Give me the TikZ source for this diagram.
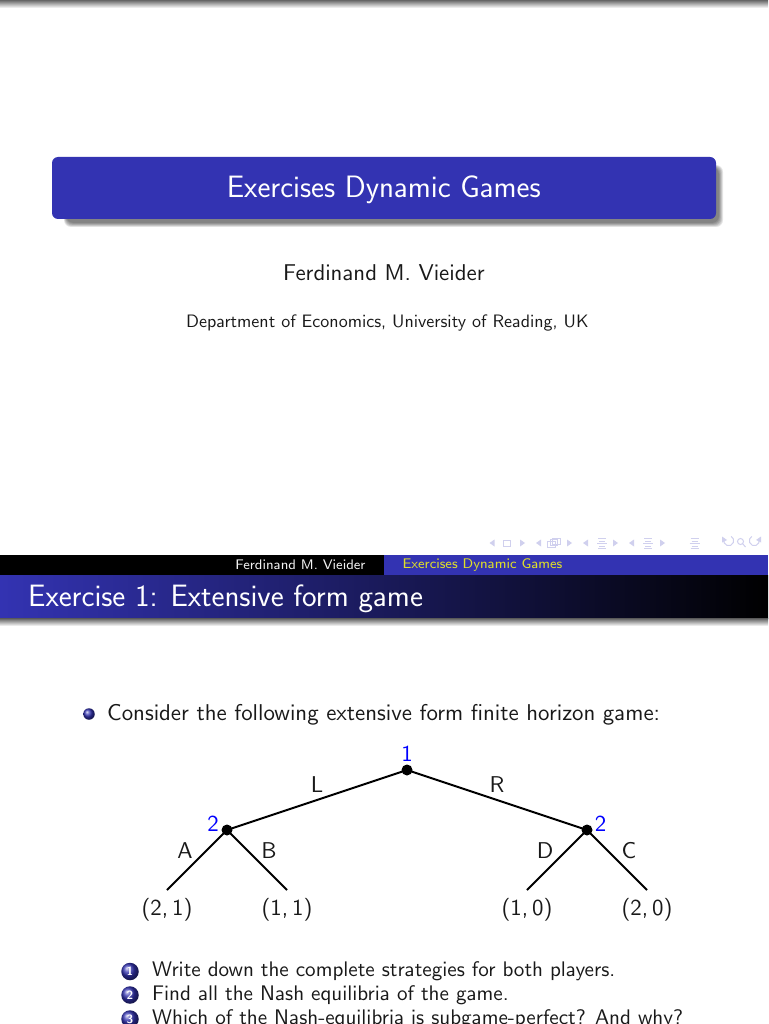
\documentclass[tikz,border=0pt]{standalone}
\usetikzlibrary{calc}
\definecolor{bmblue}{RGB}{51,51,178}
\definecolor{navpale}{RGB}{208,208,238}
\definecolor{headyellow}{RGB}{224,224,40}
\font\fbody=cmss10 at 22.85pt
\font\fenum=cmss10 at 21.1pt
\font\ftitle=cmss17 at 30.9pt
\font\fframe=cmss17 at 30.9pt
\font\fdept=cmss10 at 18pt
\font\fhead=cmss8 at 13.9pt
\font\fnum=cmssbx10 at 12pt
\tikzset{
  x=1pt,y=-1pt,
  bodytext/.style={font=\fbody,text=black!90,inner sep=0pt},
  enumtext/.style={font=\fenum,text=black!90,inner sep=0pt},
  treedot/.style={circle,fill=black,inner sep=0pt,minimum size=11pt},
  branch/.style={draw=black,line width=2pt},
  playerlabel/.style={font=\fbody,text=blue,inner sep=0pt},
  movelabel/.style={font=\fbody,text=black!90,inner sep=0pt},
  numball/.style={circle,inner sep=0pt,minimum size=17.5pt,ball color=bmblue,text=white,font=\fnum},
  smallball/.style={circle,inner sep=0pt,minimum size=11.5pt,ball color=bmblue},
  navsym/.style={draw=navpale,line width=0.9pt,fill=none},
  navtri/.style={fill=navpale,draw=none}
}
\newcommand{\navL}[1]{\fill[navtri] (#1-3,543) -- (#1+2,539.5) -- (#1+2,546.5) -- cycle;}
\newcommand{\navR}[1]{\fill[navtri] (#1+3,543) -- (#1-2,539.5) -- (#1-2,546.5) -- cycle;}
\newcommand{\navLines}[1]{\foreach \yy/\ww in {538/4,541/3,543.5/5,546/3,548.5/4}{\draw[navsym,line width=0.7pt] (#1-\ww,\yy) -- (#1+\ww,\yy);}}
\begin{document}
\begin{tikzpicture}
\useasboundingbox (0,0) rectangle (768,1024);
\clip (0,0) rectangle (768,1024);
\fill[white] (0,0) rectangle (768,1024);
% top edge shadow
\shade[top color=black!60,bottom color=white] (0,0) rectangle (768,8);
% title box
\foreach \i in {0,...,5}{
  \fill[black,opacity=0.10,rounded corners=7pt] (64+\i*0.5,165+\i*0.5) rectangle (723-\i*0.8,227-\i*0.8);
}
\fill[bmblue,rounded corners=6pt] (52,157) rectangle (716,219);
\node[font=\ftitle,text=white,inner sep=0pt] (title) at (384,190) {Exercises Dynamic Games};
\node[bodytext] (author) at (384,273) {Ferdinand M. Vieider};
\node[font=\fdept,text=black!90,inner sep=0pt] (dept) at (387.5,323) {Department of Economics, University of Reading, UK};
% navigation symbols
\navL{492.5}
\draw[navsym] (503.5,540) rectangle (510.5,546);
\navR{522}
\navL{539}
\draw[navsym] (547.5,541) rectangle (555,547.5);
\draw[navsym] (550,539.5) rectangle (557.5,545.5);
\draw[navsym] (552.5,538) rectangle (560,544);
\navR{569}
\navL{586}
\navLines{602}
\navR{615}
\navL{632}
\navLines{648}
\navR{662}
\navLines{694.5}
\draw[navsym,line width=1pt] (724,539) arc (200:-60:5);
\fill[navtri] (722,536.5) -- (722,542.5) -- (727,540) -- cycle;
\draw[navsym,line width=1pt] (740.5,541.5) circle (3);
\draw[navsym,line width=1pt] (742.5,543.5) -- (745.5,547);
\draw[navsym,line width=1pt] (759,539) arc (-20:240:5);
\fill[navtri] (761,536.5) -- (761,542.5) -- (756,540) -- cycle;
% headline
\fill[black] (0,555) rectangle (384,575);
\fill[bmblue] (384,555) rectangle (768,575);
\node[font=\fhead,text=black!5,inner sep=0pt] (headauthor) at (300.5,565) {Ferdinand M. Vieider};
\node[font=\fhead,text=headyellow,inner sep=0pt] (headtitle) at (482.5,565) {Exercises Dynamic Games};
% frame title
\shade[left color=bmblue,right color=black] (0,575) rectangle (768,618);
\shade[top color=black!65,bottom color=white] (0,618) rectangle (768,626);
\node[font=\fframe,text=white,inner sep=0pt,anchor=west] (frametitle) at (28,598.5) {Exercise 1: Extensive form game};
% bullet
\node[smallball] (bullet) at (89,714) {};
\node[bodytext,anchor=west] (consider) at (107,714.5) {Consider the following extensive form finite horizon game:};
% tree
\node[treedot] (root) at (407,770) {};
\node[treedot] (left) at (227,830) {};
\node[treedot] (right) at (587,830) {};
\coordinate (la) at (167,890);
\coordinate (lb) at (287,890);
\coordinate (rd) at (527,890);
\coordinate (rc) at (647,890);
\draw[branch] (root.center) -- (left.center);
\draw[branch] (root.center) -- (right.center);
\draw[branch] (left.center) -- (la);
\draw[branch] (left.center) -- (lb);
\draw[branch] (right.center) -- (rd);
\draw[branch] (right.center) -- (rc);
\node[playerlabel] (p1) at (407,754.5) {1};
\node[playerlabel] (p2l) at (213,824) {2};
\node[playerlabel] (p2r) at (600.5,824) {2};
\node[movelabel] (mL) at (317,784.5) {L};
\node[movelabel] (mR) at (497,784.5) {R};
\node[movelabel] (mA) at (185,850.5) {A};
\node[movelabel] (mB) at (269,850.5) {B};
\node[movelabel] (mD) at (545,850.5) {D};
\node[movelabel] (mC) at (629,850.5) {C};
\node[bodytext] (pa) at (167,909.5) {(2,\kern4pt 1)};
\node[bodytext] (pb) at (287,909.5) {(1,\kern4pt 1)};
\node[bodytext] (pd) at (527,909.5) {(1,\kern4pt 0)};
\node[bodytext] (pc) at (647,909.5) {(2,\kern4pt 0)};
% enumerate
\node[numball] (n1) at (130,971.5) {1};
\node[numball] (n2) at (130,995) {2};
\node[numball] (n3) at (130,1019) {3};
\node[enumtext,anchor=west] (q1) at (152,971) {Write down the complete strategies for both players.};
\node[enumtext,anchor=west] (q2) at (152,995) {Find all the Nash equilibria of the game.};
\node[enumtext,anchor=west] (q3) at (152,1019) {Which of the Nash-equilibria is subgame-perfect? And why?};
\end{tikzpicture}
\end{document}
